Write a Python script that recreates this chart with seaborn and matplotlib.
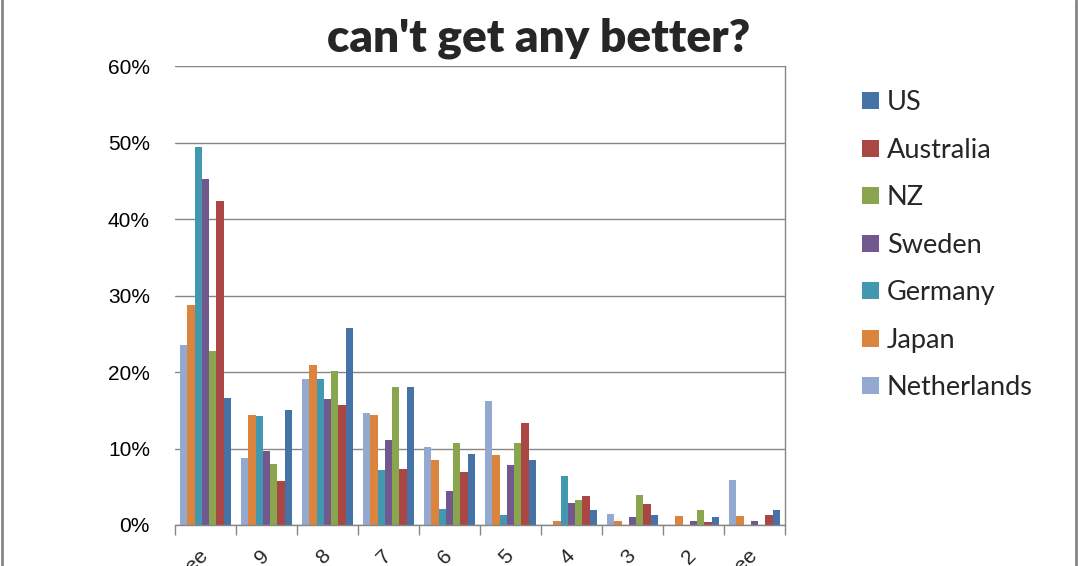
import pandas as pd
import matplotlib.pyplot as plt
import seaborn as sns
from matplotlib.patches import Patch
from matplotlib.lines import Line2D

# scale points, left to right
categories = ['10 - Agree', '9', '8', '7', '6', '5', '4', '3', '2', '1 - Disagree']

# share of answers per country (fraction)
netherlands = [0.235, 0.088, 0.191, 0.146, 0.102, 0.162, 0.000, 0.015, 0.000, 0.059]
japan       = [0.288, 0.144, 0.209, 0.144, 0.085, 0.092, 0.005, 0.005, 0.012, 0.012]
germany     = [0.494, 0.142, 0.191, 0.072, 0.021, 0.013, 0.064, 0.000, 0.000, 0.000]
sweden      = [0.452, 0.097, 0.165, 0.111, 0.044, 0.078, 0.029, 0.010, 0.005, 0.005]
nz          = [0.227, 0.080, 0.201, 0.180, 0.107, 0.107, 0.033, 0.039, 0.020, 0.000]
australia   = [0.424, 0.058, 0.157, 0.073, 0.069, 0.133, 0.038, 0.027, 0.004, 0.013]
us          = [0.166, 0.150, 0.257, 0.180, 0.093, 0.085, 0.020, 0.013, 0.010, 0.020]

countries = ['Netherlands', 'Japan', 'Germany', 'Sweden', 'NZ', 'Australia', 'US']
series = [netherlands, japan, germany, sweden, nz, australia, us]
colors = ['#93A9CF', '#DB843D', '#4198AF', '#71588F', '#89A54E', '#AA4643', '#4572A7']

rows = []
for name, vals in zip(countries, series):
    for cat, v in zip(categories, vals):
        rows.append({'score': cat, 'country': name, 'share': v})
df = pd.DataFrame(rows)

sns.set_theme(style='white')
plt.rcParams['font.family'] = ['Liberation Sans', 'DejaVu Sans']

grey = '#868686'

fig = plt.figure(figsize=(10.78, 5.66), dpi=100)
ax = fig.add_axes([175 / 1078, 1 - 525 / 566, 610 / 1078, 459 / 566])

sns.barplot(data=df, x='score', y='share', hue='country', hue_order=countries,
            order=categories, palette=colors, width=0.84, gap=0, saturation=1,
            errorbar=None, linewidth=0, ax=ax, legend=False)

ax.set_ylim(0, 0.6)
ax.set_xlim(-0.5, len(categories) - 0.5)
ax.set_yticks([0, 0.1, 0.2, 0.3, 0.4, 0.5, 0.6])
ax.set_yticklabels(['0%', '10%', '20%', '30%', '40%', '50%', '60%'], fontsize=15, color='black')
ax.yaxis.grid(True, color=grey, linewidth=1.0)
ax.set_axisbelow(True)
ax.set_xlabel('')
ax.set_ylabel('')

# boundary ticks between categories, labels at centres
ax.set_xticks([i - 0.5 for i in range(len(categories) + 1)], minor=False)
ax.set_xticklabels([])
ax.tick_params(axis='x', which='major', bottom=True, length=7, color=grey, width=1)
ax.tick_params(axis='y', left=False, length=0, pad=18)
ax.set_xticks(range(len(categories)), minor=True)
ax.set_xticklabels(categories, minor=True, rotation=45, ha='right', va='center',
                   rotation_mode='anchor', fontsize=15)
ax.tick_params(axis='x', which='minor', bottom=False, length=0, pad=20)

for side in ['top', 'left']:
    ax.spines[side].set_visible(False)
ax.spines['bottom'].set_color(grey)
ax.spines['right'].set_color(grey)
ax.spines['bottom'].set_linewidth(1.0)
ax.spines['right'].set_linewidth(1.0)

fig.text(0.5, 0.933, "can't get any better?", ha='center', va='center',
         fontsize=33, fontweight='heavy', family=['Lato', 'DejaVu Sans'])

handles = [Patch(facecolor=c, edgecolor='none') for c in colors][::-1]
fig.legend(handles, countries[::-1], loc='upper left',
           bbox_to_anchor=(838 / 1078, 1 - 66 / 566), frameon=False,
           prop={'family': ['Lato', 'DejaVu Sans'], 'size': 19.5},
           handlelength=0.6, handleheight=0.6, handletextpad=0.3,
           labelspacing=0.83)

# chart-area border edges
fig.add_artist(Line2D([0.0015, 0.0015], [0, 1], color=grey, linewidth=2, transform=fig.transFigure))
fig.add_artist(Line2D([0.9985, 0.9985], [0, 1], color=grey, linewidth=2, transform=fig.transFigure))

fig.savefig('out.png', dpi=100)
